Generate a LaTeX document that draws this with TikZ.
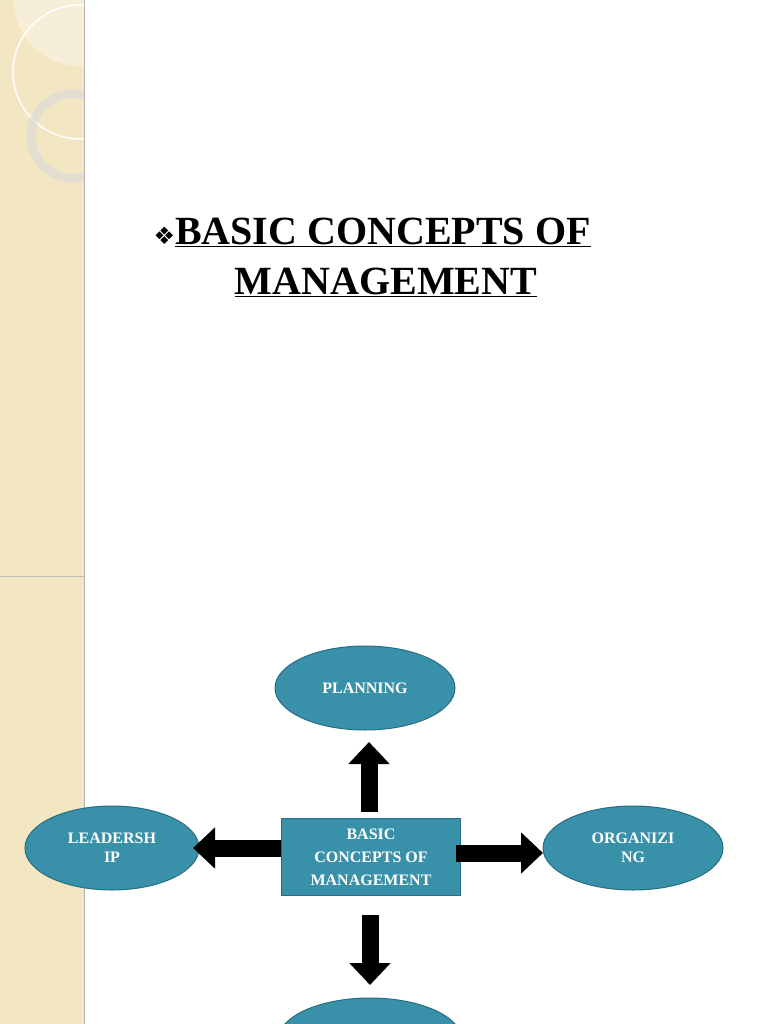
\documentclass[tikz,border=0pt]{standalone}
\usepackage{fontspec}
\setmainfont{Liberation Serif}
\newfontfamily\symfont{DejaVu Sans}
\usetikzlibrary{arrows.meta,shapes.geometric}
\definecolor{teal1}{RGB}{56,145,168}
\definecolor{tealdark}{RGB}{40,110,130}
\definecolor{beige}{RGB}{243,230,194}
\tikzset{
  topic/.style={ellipse,fill=teal1,draw=tealdark,line width=1pt,text=white,
    font=\bfseries\fontsize{16}{19}\selectfont,align=center,minimum width=180pt,minimum height=84pt},
  hub/.style={rectangle,fill=teal1,draw=tealdark,line width=1pt,text=white,
    font=\bfseries\fontsize{16}{23}\selectfont,align=center,minimum width=179pt,minimum height=77pt},
  bigarrow/.style={line width=17pt,-{Triangle[width=40pt,length=22pt]}}
}
\begin{document}
\begin{tikzpicture}[x=1pt,y=-1pt]
\useasboundingbox (0,0) rectangle (768,1024);
% side panel
\fill[beige] (0,0) rectangle (84,1024);
\draw[gray!60,line width=1pt] (84,0) -- (84,1024);
\draw[gray!50] (0,576) -- (84,576);
\begin{scope}
\clip (0,0) rectangle (84,1024);
\fill[white,opacity=0.35] (80,0) circle (66);
\draw[white,line width=1.5pt] (80,72) circle (67);
\draw[black!15,line width=9pt,opacity=0.6] (73,136) circle (42);
\end{scope}
% title
\node[anchor=west,font=\bfseries\fontsize{40}{48}\selectfont] (title) at (150,232)
  {{\symfont\fontsize{24}{24}\selectfont ❖}\underline{BASIC CONCEPTS OF}};
\node[font=\bfseries\fontsize{40}{48}\selectfont] (title2) at (386,282) {\underline{MANAGEMENT}};
% diagram
\node[hub] (centre) at (371,857) {BASIC\\CONCEPTS OF\\MANAGEMENT};
\node[topic] (plan) at (365,688) {PLANNING};
\node[topic,minimum width=174pt] (lead) at (112,848) {LEADERSH\\IP};
\node[topic] (org) at (633,848) {ORGANIZI\\NG};
\node[topic,minimum width=184pt] (bottom) at (370,1040) {};
\draw[bigarrow] (369,812) -- (369,742);
\draw[bigarrow] (centre.west |- 0,848) -- (193,848);
\draw[bigarrow] (456,853) -- (543,853);
\draw[bigarrow] (370,915) -- (370,985);
\end{tikzpicture}
\end{document}
